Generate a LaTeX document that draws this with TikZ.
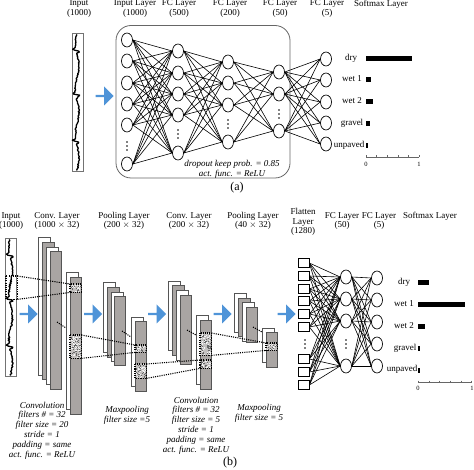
\documentclass[tikz,border=0pt]{standalone}
\usepackage{fontspec}
\setmainfont{Liberation Serif}
\usepackage{tikz}
\usetikzlibrary{shapes.geometric}
\usetikzlibrary{shapes.arrows}
\definecolor{arrowblue}{HTML}{4F94D8}
\definecolor{barfill}{HTML}{A9A5A3}
\definecolor{barline}{HTML}{555555}
\begin{document}
\begin{tikzpicture}[
  x=1pt,y=-1pt,
  declare function={spk(\d)=5.5*\d*exp(-0.5*min(abs(\d),6)*min(abs(\d),6));},
  txt/.style={font=\fontsize{9}{9.6}\selectfont,align=center,inner sep=0pt,text=black},
  note/.style={txt,font=\fontsize{9}{9.8}\selectfont\itshape},
  neuron/.style={draw,ellipse,fill=white,inner sep=0pt,minimum width=11pt,minimum height=14pt,line width=.7pt},
  flat/.style={draw,fill=white,inner sep=0pt,minimum width=11pt,minimum height=9.5pt,line width=.7pt},
  link/.style={line width=.6pt},
  nextstep/.style={single arrow,fill=arrowblue,inner sep=0pt,minimum width=19pt,minimum height=18pt,single arrow head extend=1.5pt},
  whitebar/.style={draw=barline,fill=white,inner sep=0pt,anchor=north west,line width=.8pt},
  graybar/.style={draw=barline,fill=barfill,inner sep=0pt,anchor=north west,line width=.8pt},
  patch/.style={fill=barfill!70,inner sep=0pt,anchor=north west,minimum width=11pt},
  trace/.style={dash pattern=on 1.1pt off 1.1pt,line width=1.1pt},
  score/.style={fill=black,inner sep=0pt,anchor=west,minimum height=5pt},
  signal/.pic={
    \draw[line width=.7pt,draw=black!55] (-5.5,0) rectangle (5.5,138);
    \draw[line width=1.3pt,line join=round] plot[domain=1:137,samples=140]
      ({-0.3+1.8*sin(\x*7.8+200)+spk(\x-17)+spk(\x-61)+spk(\x-108)+1.4*rnd-0.7},\x);
  }]
\useasboundingbox (0,0) rectangle (474,470);

% (a) dense network
\draw[draw=black!60,rounded corners=15pt,line width=.8pt] (116,25.5) rectangle (290,178);
\pgfmathsetseed{11}
\pic at (77.5,33.5) {signal};
\node[nextstep] (arra) at (104,96) {};
\foreach \n/\y in {1/40,2/61,3/83,4/104,5/125,6/164}
  \node[neuron] (i\n) at (127,\y) {};
\foreach \n/\y in {1/51,2/73,3/94,4/115,5/153}
  \node[neuron] (p\n) at (178,\y) {};
\foreach \n/\y in {1/62,2/83,3/105,4/142}
  \node[neuron] (q\n) at (228,\y) {};
\foreach \n/\y in {1/72,2/94,3/131}
  \node[neuron] (r\n) at (279,\y) {};
\foreach \n/\y in {1/59,2/80,3/102,4/123,5/144}
  \node[neuron] (s\n) at (326,\y) {};
\foreach \a in {1,...,6} \foreach \b in {1,...,5}
  \draw[link] (i\a.east) -- (p\b.west);
\foreach \a in {1,...,5} \foreach \b in {1,...,4}
  \draw[link] (p\a.east) -- (q\b.west);
\foreach \a in {1,...,4} \foreach \b in {1,...,3}
  \draw[link] (q\a.east) -- (r\b.west);
\foreach \a in {1,...,3} \foreach \b in {1,...,5}
  \draw[link] (r\a.east) -- (s\b.west);
\foreach \x/\y in {127/146,178/134,228/124,279/114,305/344,346/344}
  \foreach \k in {-4,0,4}
    \fill (\x,\y+\k) circle (.9pt);

\node[txt] (ta0) at (79,8.5) {Input\\(1000)};
\node[txt] (ta1) at (135,8.5) {Input Layer\\(1000)};
\node[txt] (ta2) at (179,8.5) {FC Layer\\(500)};
\node[txt] (ta3) at (230,8.5) {FC Layer\\(200)};
\node[txt] (ta4) at (280,8.5) {FC Layer\\(50)};
\node[txt] (ta5) at (327,8.5) {FC Layer\\(5)};
\node[txt] (ta6) at (381,4) {Softmax Layer};
\node[note] (drop) at (232,169) {dropout keep prob. = 0.85\\act. func. = ReLU};
\node[txt,font=\fontsize{12}{12}\selectfont] (capa) at (237,188) {(a)};

\foreach \n/\t/\x/\y/\w in {1/dry/351/58/46,2/wet 1/352/79/4.5,3/wet 2/352/101/7,4/gravel/352/123/3.5,5/unpaved/349/145/2}{
  \node[txt] (ca\n) at (\x,\y) {\t};
  \node[score,minimum width=\w pt] (ba\n) at (366,\y+1) {};
}
\draw[black!60,line width=.4pt] (366,157) -- (419,157);
\foreach \x in {366,376.6,...,420} \draw[black!60,line width=.4pt] (\x,155.5) -- (\x,157);
\node[txt,font=\fontsize{6.5}{7}\selectfont] (za) at (366,164) {0};
\node[txt,font=\fontsize{6.5}{7}\selectfont] (oa) at (419,164) {1};

% (b) convolutional network
\pic at (11,238.5) {signal};
\foreach \x in {28,92.5,156.5,222,286}
  \node[nextstep] (arr\x) at (\x,314) {};

\foreach \n/\x/\ya/\yb/\w/\st in {
  c1/38/237/375/12/whitebar,c2/42/242/379/12/graybar,c3/46/247/384/12/whitebar,c4/50/251/389/11/graybar,
  c5/66/272/409/12/whitebar,c6/70/277/414/11/graybar,
  m1/103/282/352/12/whitebar,m2/107/287/357/12/graybar,m3/110.5/292/361/12/whitebar,m4/114/296/365/11/graybar,
  m5/131/317/386/12/whitebar,m6/135/321/391/11/graybar,
  k1/168/281/350/12/whitebar,k2/172/285/355/12/graybar,k3/176/290/360/12/whitebar,k4/180/295/364/11/graybar,
  k5/196/315/384/12/whitebar,k6/200/320/389/11/graybar,
  n1/234/293/332/12/whitebar,n2/238/298/336/12/graybar,n3/242/302/341/12/whitebar,n4/246/307/342/11/graybar,
  n5/262/328/362/12/whitebar,n6/266/332/367/11/graybar}
  \node[\st,minimum width=\w pt,minimum height={(\yb-\ya)*1pt}] (\n) at (\x,\ya) {};

\node[inner sep=0pt,anchor=north west,minimum width=11pt,minimum height=23pt] (w0) at (6,276) {};
\draw[trace] (w0.north west) rectangle (w0.south east);
\foreach \n/\x/\ya/\yb in {w1/70/284/292,w2/70/335/358,w3/135/345/352,w4/135/364/378,w5/200/333/355,w6/200/360/368,w7/266/343/350}{
  \node[patch,minimum height={(\yb-\ya)*1pt}] (\n) at (\x,\ya) {};
  \pgfmathtruncatemacro{\cnt}{5*(\yb-\ya)}
  \foreach \k in {1,...,\cnt}{
    \pgfmathsetmacro{\px}{\x+10.2*rnd}
    \pgfmathsetmacro{\py}{\ya+(\yb-\ya-.8)*rnd}
    \pgfmathsetmacro{\ps}{mod(\k,2)==0 ? 5 : 60}
    \fill[black!\ps] (\px,\py) rectangle ++(.8,.8);
  }
  \draw[trace] (\n.north west) rectangle (\n.south east);
}

\draw[trace] (w0.north east) -- (w1.north west);
\draw[trace] (w0.south east) -- (w1.south west);
\draw[trace] (w2.north east) -- (w3.north west);
\draw[trace] (w2.south east) -- (w3.south west);
\draw[trace] (w4.north east) -- (w6.north west);
\draw[trace] (w4.south east) -- (w6.south west);
\draw[trace] (w5.north east) -- (w7.north west);
\draw[trace] (w5.south east) -- (w7.south west);
\coordinate (g1) at (57,322); \coordinate (g2) at (66,328);
\coordinate (g3) at (122,331); \coordinate (g4) at (131,337);
\coordinate (g5) at (187,330); \coordinate (g6) at (196,335);
\coordinate (g7) at (253,327); \coordinate (g8) at (262,332);
\draw[trace] (g1) -- (g2);
\draw[trace] (g3) -- (g4);
\draw[trace] (g5) -- (g6);
\draw[trace] (g7) -- (g8);

\foreach \n/\y in {1/263,2/276,3/289,4/301,5/314,6/327,7/359,8/372,9/385}
  \node[flat] (f\n) at (303.5,\y) {};
\foreach \n/\y in {1/277,2/299,3/321,4/366}
  \node[neuron] (u\n) at (346,\y) {};
\foreach \n/\y in {1/278,2/300,3/322,4/344,5/366}
  \node[neuron] (v\n) at (377,\y) {};
\foreach \a in {1,...,9} \foreach \b in {1,...,4}
  \draw[link] (f\a.east) -- (u\b.west);
\foreach \a in {1,...,4} \foreach \b in {1,...,5}
  \draw[link] (u\a.east) -- (v\b.west);

\node[txt] (tb0) at (11,221) {Input\\(1000)};
\node[txt] (tb1) at (57,221) {Conv. Layer\\(1000 $\times$ 32)};
\node[txt] (tb2) at (124,221) {Pooling Layer\\(200 $\times$ 32)};
\node[txt] (tb3) at (189,221) {Conv. Layer\\(200 $\times$ 32)};
\node[txt] (tb4) at (253,221) {Pooling Layer\\(40 $\times$ 32)};
\node[txt] (tb5) at (303,222) {Flatten\\Layer\\(1280)};
\node[txt] (tb6) at (342,221) {FC Layer\\(50)};
\node[txt] (tb7) at (379,221) {FC Layer\\(5)};
\node[txt] (tb8) at (430,216) {Softmax Layer};

\node[note] (nb1) at (42,430.5) {Convolution\\filters \# = 32\\filter size = 20\\stride = 1\\padding = same\\act. func. = ReLU};
\node[note] (nb2) at (127,415) {Maxpooling\\filter size =5};
\node[note] (nb3) at (196,425.5) {Convolution\\filters \# = 32\\filter size = 5\\stride = 1\\padding = same\\act. func. = ReLU};
\node[note] (nb4) at (259,413) {Maxpooling\\filter size = 5};
\node[txt,font=\fontsize{12}{12}\selectfont] (capb) at (230,463) {(b)};

\foreach \n/\t/\x/\y/\w in {1/dry/404/282/11,2/wet 1/404/304/47,3/wet 2/404/326/7,4/gravel/405/348/2,5/unpaved/402/369/2}{
  \node[txt] (cb\n) at (\x,\y) {\t};
  \node[score,minimum width=\w pt] (bb\n) at (418,\y+1) {};
}
\draw[black!60,line width=.4pt] (418,382) -- (472,382);
\foreach \x in {418,428.7,...,473} \draw[black!60,line width=.4pt] (\x,380.5) -- (\x,382);
\node[txt,font=\fontsize{6.5}{7}\selectfont] (zb) at (418,388.5) {0};
\node[txt,font=\fontsize{6.5}{7}\selectfont] (ob) at (472,388.5) {1};
\end{tikzpicture}
\end{document}
